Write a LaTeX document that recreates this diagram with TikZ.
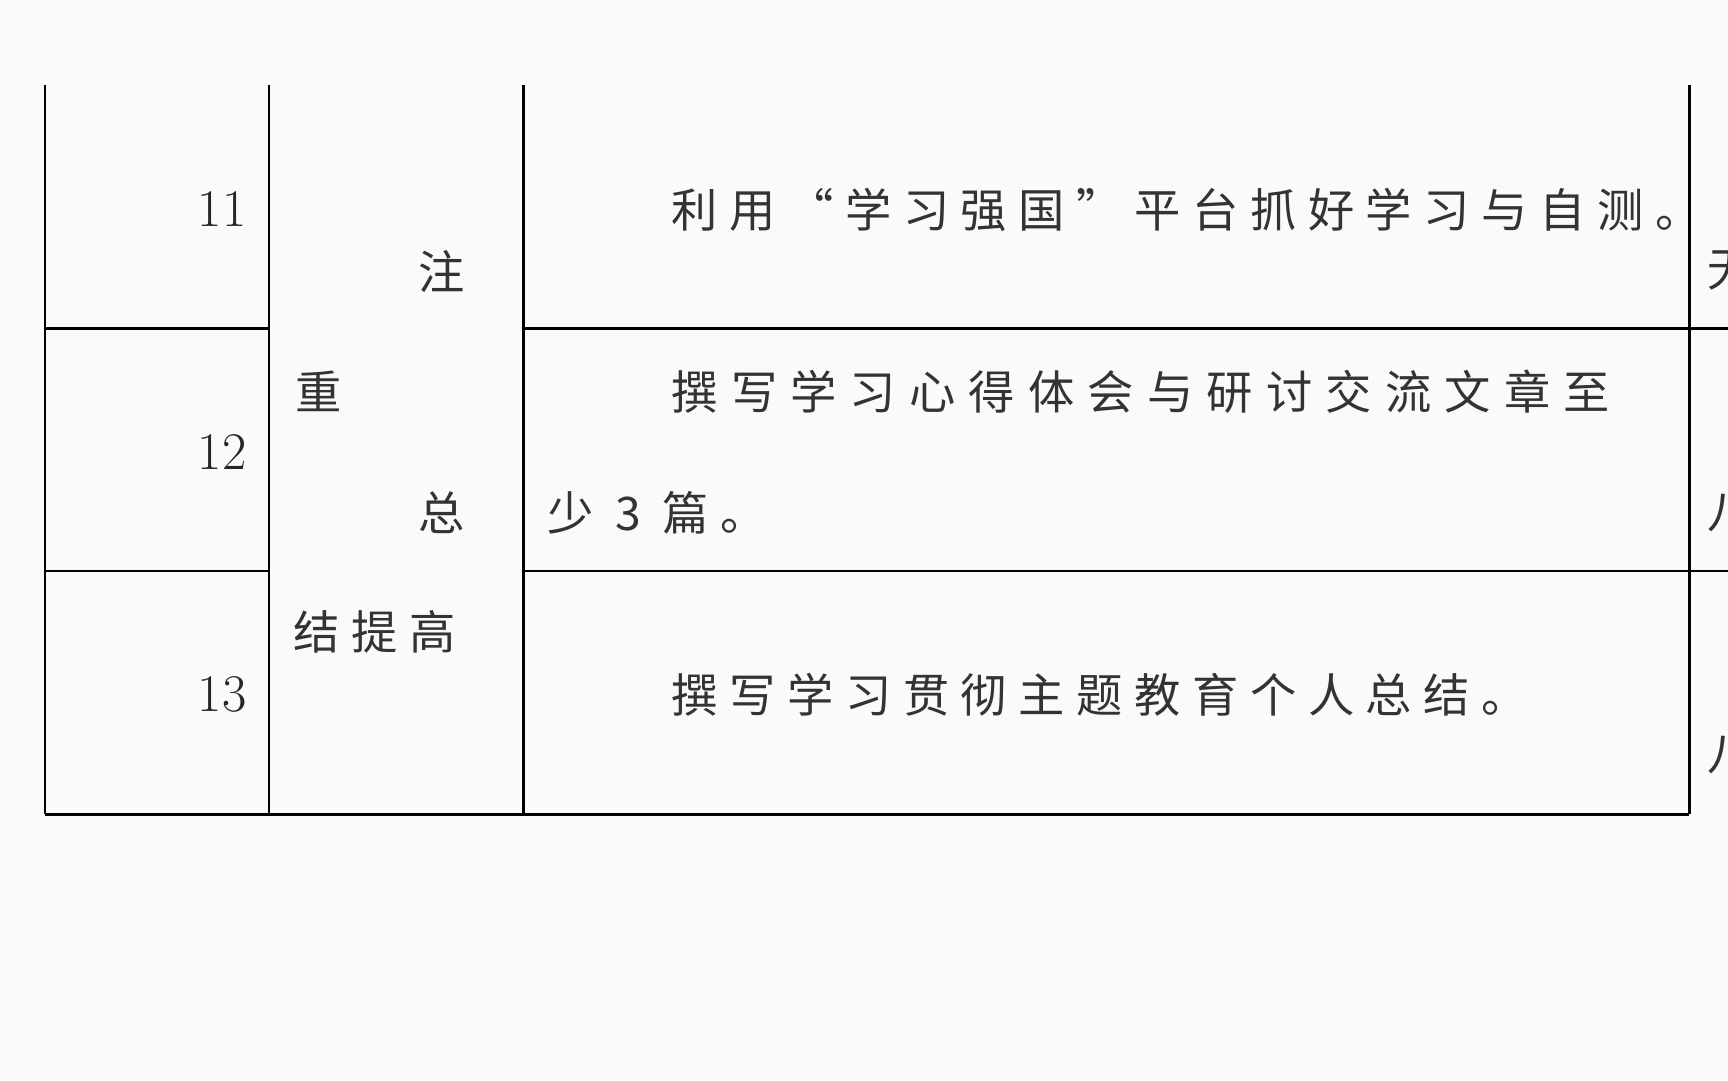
\documentclass[tikz,border=0pt]{standalone}
\usepackage{fontspec}
\newfontfamily\cjk[LetterSpace=25]{Noto Sans CJK SC}
\newfontfamily\cjkw[LetterSpace=28.5]{Noto Sans CJK SC}
\newfontfamily\cjkn{Noto Sans CJK SC}
\begin{document}
\begin{tikzpicture}[x=0.5pt,y=-0.5pt,
  tx/.style={inner sep=0pt,anchor=west,font=\cjk\fontsize{21}{21}\selectfont,text=black!80},
  ch/.style={inner sep=0pt,font=\cjkn\fontsize{21}{21}\selectfont,text=black!80},
  num/.style={inner sep=0pt,anchor=east,font=\fontsize{24}{24}\selectfont,text=black!85},
  ln/.style={line width=1.1pt}]
\fill[white!98!black] (0,0) rectangle (1568,980);
\useasboundingbox (0,0) rectangle (1568,980);
\coordinate (a1) at (41,77); \coordinate (a2) at (41,739);
\coordinate (b1) at (244,77); \coordinate (b2) at (244,739);
\coordinate (c1) at (475,77); \coordinate (c2) at (475,739);
\coordinate (d1) at (1533,77); \coordinate (d2) at (1533,739);
\draw[ln] (a1)--(a2) (b1)--(b2) (c1)--(c2) (d1)--(d2);
\draw[ln] (41,298)--(244,298) (475,298)--(1568,298);
\draw[ln] (41,518)--(244,518) (475,518)--(1568,518);
\draw[ln] (41,739)--(1533,739);
\node[num] (n11) at (224,190) {11};
\node[num] (n12) at (224,410) {12};
\node[num] (n13) at (224,630) {13};
\node[ch] (z1) at (401,246) {注};
\node[ch] (z2) at (289,355) {重};
\node[ch] (z3) at (401,465) {总};
\node[tx] (z4) at (266,573) {结提高};
\node[tx] (t11) at (609,190) {利用“学习强国”平台抓好学习与自测。};
\node[tx,font=\cjkw\fontsize{21}{21}\selectfont] (t12a) at (609,355) {撰写学习心得体会与研讨交流文章至};
\node[tx] (t12b) at (496,465) {少\ 3\ 篇。};
\node[tx] (t13) at (609,630) {撰写学习贯彻主题教育个人总结。};
\begin{scope}
\clip (1535,77) rectangle (1568,739);
\node[ch,anchor=west] (r1) at (1549,245) {无};
\node[ch,anchor=west] (r2) at (1549,465) {八};
\node[ch,anchor=west] (r3) at (1549,685) {八};
\end{scope}
\end{tikzpicture}
\end{document}
